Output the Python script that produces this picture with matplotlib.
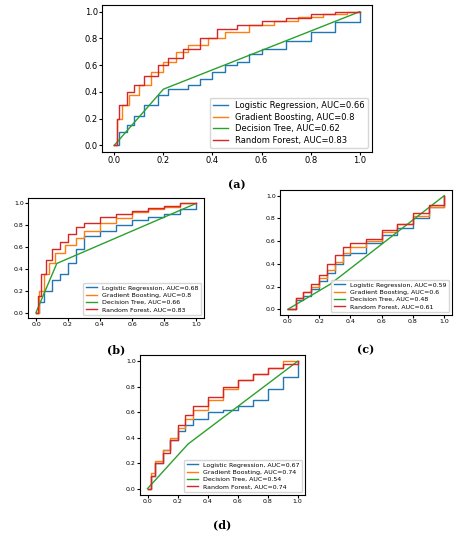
import matplotlib
matplotlib.use("Agg")
import matplotlib.pyplot as plt

names = ["Logistic Regression", "Gradient Boosting", "Decision Tree", "Random Forest"]
colors = ["#1f77b4", "#ff7f0e", "#2ca02c", "#d62728"]

auc_a = [0.66, 0.8, 0.62, 0.83]
auc_b = [0.68, 0.8, 0.66, 0.83]
auc_c = [0.59, 0.6, 0.48, 0.61]
auc_d = [0.67, 0.74, 0.54, 0.74]

# (fpr list, tpr list) per model per panel
a_lr = ([0, 0.02, 0.05, 0.08, 0.12, 0.18, 0.22, 0.3, 0.35, 0.4, 0.45, 0.5, 0.55, 0.6, 0.7, 0.8, 0.9, 1.0],
        [0, 0.1, 0.15, 0.22, 0.3, 0.38, 0.42, 0.45, 0.5, 0.55, 0.6, 0.62, 0.68, 0.72, 0.78, 0.85, 0.92, 1.0])
a_gb = ([0, 0.01, 0.03, 0.06, 0.1, 0.15, 0.2, 0.25, 0.3, 0.38, 0.45, 0.55, 0.65, 0.75, 0.85, 0.95, 1.0],
        [0, 0.2, 0.3, 0.38, 0.45, 0.55, 0.62, 0.7, 0.75, 0.8, 0.85, 0.9, 0.93, 0.96, 0.98, 1.0, 1.0])
a_dt = ([0, 0.2, 1.0], [0, 0.42, 1.0])
a_rf = ([0, 0.01, 0.02, 0.05, 0.08, 0.12, 0.18, 0.22, 0.28, 0.35, 0.42, 0.5, 0.6, 0.7, 0.8, 0.9, 1.0],
        [0, 0.2, 0.3, 0.4, 0.45, 0.52, 0.6, 0.65, 0.72, 0.8, 0.87, 0.9, 0.93, 0.95, 0.98, 1.0, 1.0])

b_lr = ([0, 0.02, 0.05, 0.1, 0.15, 0.2, 0.25, 0.3, 0.4, 0.5, 0.6, 0.7, 0.8, 0.9, 1.0],
        [0, 0.1, 0.2, 0.3, 0.35, 0.45, 0.58, 0.7, 0.75, 0.8, 0.85, 0.88, 0.9, 0.95, 1.0])
b_gb = ([0, 0.02, 0.05, 0.08, 0.12, 0.18, 0.25, 0.3, 0.4, 0.5, 0.6, 0.7, 0.8, 0.9, 1.0],
        [0, 0.2, 0.35, 0.45, 0.55, 0.62, 0.68, 0.75, 0.82, 0.87, 0.92, 0.95, 0.97, 1.0, 1.0])
b_dt = ([0, 0.13, 1.0], [0, 0.45, 1.0])
b_rf = ([0, 0.01, 0.03, 0.06, 0.1, 0.15, 0.2, 0.25, 0.3, 0.4, 0.5, 0.6, 0.7, 0.8, 0.9, 1.0],
        [0, 0.15, 0.35, 0.48, 0.58, 0.65, 0.72, 0.78, 0.82, 0.88, 0.9, 0.93, 0.96, 0.98, 1.0, 1.0])

c_lr = ([0, 0.05, 0.1, 0.15, 0.2, 0.25, 0.3, 0.35, 0.4, 0.5, 0.6, 0.7, 0.8, 0.9, 1.0],
        [0, 0.08, 0.12, 0.18, 0.25, 0.32, 0.4, 0.48, 0.5, 0.58, 0.65, 0.72, 0.8, 0.9, 1.0])
c_gb = ([0, 0.05, 0.1, 0.15, 0.2, 0.25, 0.3, 0.35, 0.4, 0.5, 0.6, 0.7, 0.8, 0.9, 1.0],
        [0, 0.1, 0.15, 0.2, 0.28, 0.35, 0.42, 0.5, 0.55, 0.6, 0.68, 0.75, 0.82, 0.9, 1.0])
c_dt = ([0, 0.27, 1.0], [0, 0.22, 1.0])
c_rf = ([0, 0.05, 0.1, 0.15, 0.2, 0.25, 0.3, 0.35, 0.4, 0.5, 0.6, 0.7, 0.8, 0.9, 1.0],
        [0, 0.1, 0.15, 0.22, 0.3, 0.4, 0.48, 0.55, 0.58, 0.62, 0.7, 0.75, 0.85, 0.92, 1.0])

d_lr = ([0, 0.02, 0.05, 0.1, 0.15, 0.2, 0.25, 0.3, 0.4, 0.5, 0.6, 0.7, 0.8, 0.9, 1.0],
        [0, 0.1, 0.2, 0.3, 0.38, 0.45, 0.5, 0.55, 0.6, 0.62, 0.65, 0.7, 0.78, 0.88, 1.0])
d_gb = ([0, 0.02, 0.05, 0.1, 0.15, 0.2, 0.25, 0.3, 0.4, 0.5, 0.6, 0.7, 0.8, 0.9, 1.0],
        [0, 0.12, 0.22, 0.3, 0.4, 0.48, 0.55, 0.62, 0.7, 0.78, 0.85, 0.9, 0.95, 1.0, 1.0])
d_dt = ([0, 0.27, 1.0], [0, 0.35, 1.0])
d_rf = ([0, 0.02, 0.05, 0.1, 0.15, 0.2, 0.25, 0.3, 0.4, 0.5, 0.6, 0.7, 0.8, 0.9, 1.0],
        [0, 0.1, 0.2, 0.28, 0.38, 0.5, 0.58, 0.65, 0.72, 0.8, 0.85, 0.9, 0.95, 0.98, 1.0])

panels = [
    ("(a)", [a_lr, a_gb, a_dt, a_rf], auc_a, [102/474, 1-152/538, 270/474, 147/538], 185),
    ("(b)", [b_lr, b_gb, b_dt, b_rf], auc_b, [28/474, 1-318/538, 176/474, 120/538], 350),
    ("(c)", [c_lr, c_gb, c_dt, c_rf], auc_c, [280/474, 1-315/538, 172/474, 125/538], 350),
    ("(d)", [d_lr, d_gb, d_dt, d_rf], auc_d, [140/474, 1-495/538, 165/474, 140/538], 525),
]

fig = plt.figure(figsize=(4.74, 5.38), dpi=100)
for label, curves, aucs, rect, ly in panels:
    ax = fig.add_axes(rect)
    fs = 6 if label == "(a)" else 4.5
    for (x, y), n, c, a in zip(curves, names, colors, aucs):
        ax.plot(x, y, color=c, lw=1.0, drawstyle="steps-post" if len(x) > 3 else "default",
                label=f"{n}, AUC={a}")
    ax.set_xlim(-0.05, 1.05)
    ax.set_ylim(-0.05, 1.05)
    ax.set_xticks([0, 0.2, 0.4, 0.6, 0.8, 1.0])
    ax.set_yticks([0, 0.2, 0.4, 0.6, 0.8, 1.0])
    ax.set_xticklabels(["0.0", "0.2", "0.4", "0.6", "0.8", "1.0"])
    ax.set_yticklabels(["0.0", "0.2", "0.4", "0.6", "0.8", "1.0"])
    ax.tick_params(labelsize=fs, length=2, pad=1)
    ax.legend(loc="lower right", fontsize=fs, handlelength=1.8, borderpad=0.4, labelspacing=0.3)
    cx = (rect[0] + rect[2] / 2)
    fig.text(cx, 1 - ly / 538, label, ha="center", va="center", fontsize=8, fontweight="bold",
             family="DejaVu Serif")

fig.savefig("out.png", dpi=100)
